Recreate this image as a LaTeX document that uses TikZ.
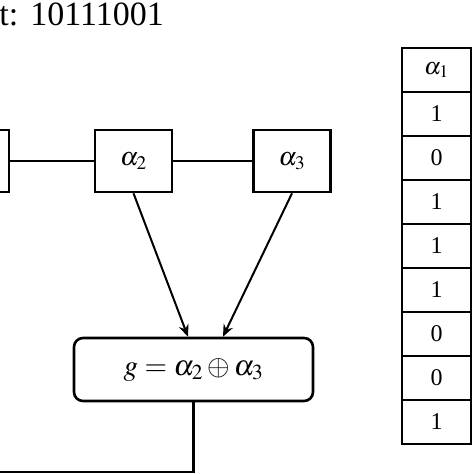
\documentclass[tikz,border=0pt]{standalone}
\usepackage{mathptmx}
\usepackage{fontspec}
\setmainfont{Liberation Serif}
\usetikzlibrary{arrows.meta}

\tikzset{
  reg/.style={draw, line width=2.6pt, minimum width=77pt, minimum height=62pt, inner sep=0pt, font=\fontsize{26}{30}\selectfont},
  gatebox/.style={draw, line width=2.6pt, rounded corners=9pt, minimum width=239pt, minimum height=63pt, inner sep=0pt, font=\fontsize{29}{34}\selectfont},
  cell/.style={draw, line width=2.2pt, minimum width=69pt, minimum height=44pt, inner sep=0pt, font=\fontsize{24}{28}\selectfont},
  wire/.style={line width=2.4pt},
  tap/.style={line width=2pt, -{Stealth[length=12pt,width=10pt]}},
}

\begin{document}
\begin{tikzpicture}[x=1pt,y=-1pt]
\useasboundingbox (0,0) rectangle (474,474);
\clip (0,0) rectangle (474,474);
% sequence
\node[anchor=base east, inner sep=0pt, font=\fontsize{34}{40}\selectfont] (seq) at (164,25) {t:\hspace{12pt}10111001};
% shift register
\node[reg] (a1) at (-29.5,161) {$\alpha_1$};
\node[reg] (a2) at (133.5,161) {$\alpha_2$};
\node[reg] (a3) at (292,161) {$\alpha_3$};
\draw[wire] (a1) -- (a2);
\draw[wire] (a2) -- (a3);
% feedback function
\node[gatebox] (g) at (193.5,369.5) {$g=\alpha_2\oplus\alpha_3$};
\draw[tap] (a2.south) -- ([xshift=-5.5pt]g.north);
\draw[tap] (a3.south) -- ([xshift=29.5pt]g.north);
\coordinate (fb) at (-10,472);
\draw[wire] (g.south) |- (fb);
% output column
\node[cell] (h) at (436.5,70) {$\alpha_1$};
\foreach \v [count=\i] in {1,0,1,1,1,0,0,1}
  \node[cell] (r\i) at (436.5,70+44*\i) {\v};
\end{tikzpicture}
\end{document}
